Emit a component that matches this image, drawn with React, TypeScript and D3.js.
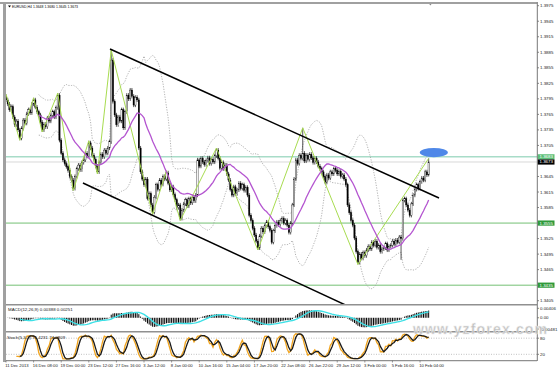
import React from 'react';
import * as d3 from 'd3';

// ---- data ----
const symbol = 'EURUSD,H4';
const firstOpen = 1.38;
const closes = [
  1.3793, 1.3785, 1.3774, 1.378, 1.376, 1.3745, 1.3752, 1.3735, 1.3719, 1.3738,
  1.3754, 1.3748, 1.3766, 1.3774, 1.3768, 1.3785, 1.3793, 1.3779, 1.377, 1.3764,
  1.375, 1.3735, 1.3746, 1.3741, 1.3758, 1.3752, 1.3763, 1.377, 1.376, 1.3778,
  1.3802, 1.3715, 1.369, 1.3677, 1.367, 1.3664, 1.3657, 1.3645, 1.3638, 1.3622,
  1.3645, 1.366, 1.3667, 1.3658, 1.3672, 1.3677, 1.369, 1.3684, 1.371, 1.37,
  1.3686, 1.3678, 1.3665, 1.3654, 1.3672, 1.3688, 1.3683, 1.3696, 1.369, 1.37,
  1.3712, 1.387, 1.379, 1.3764, 1.3745, 1.376, 1.3752, 1.3774, 1.3739, 1.377,
  1.3802, 1.3795, 1.3812, 1.38, 1.3783, 1.3798, 1.3793, 1.37, 1.3654, 1.364,
  1.3629, 1.364, 1.3603, 1.3612, 1.359, 1.3576, 1.3605, 1.3629, 1.362, 1.3638,
  1.363, 1.3645, 1.364, 1.3652, 1.3632, 1.3619, 1.3625, 1.361, 1.36, 1.3585,
  1.359, 1.3564, 1.358, 1.3592, 1.36, 1.3588, 1.3602, 1.3594, 1.3605, 1.3598,
  1.3609, 1.3677, 1.3665, 1.368, 1.3673, 1.3668, 1.3676, 1.3681, 1.367, 1.3678,
  1.3673, 1.3685, 1.3696, 1.368, 1.3661, 1.3672, 1.366, 1.3667, 1.365, 1.3638,
  1.362, 1.3609, 1.3625, 1.3612, 1.3619, 1.3632, 1.3622, 1.3629, 1.3618, 1.3624,
  1.3609, 1.357, 1.356, 1.3545, 1.3532, 1.352, 1.3507, 1.353, 1.3545, 1.3538,
  1.355, 1.3557, 1.3548, 1.3541, 1.3518, 1.354, 1.355, 1.3557, 1.3552, 1.356,
  1.3564, 1.3555, 1.356, 1.3551, 1.3537, 1.3555, 1.359, 1.364, 1.3677, 1.367,
  1.3686, 1.368, 1.369, 1.3675, 1.3686, 1.3678, 1.3688, 1.3681, 1.3672, 1.368,
  1.3673, 1.3665, 1.366, 1.3654, 1.3645, 1.3634, 1.3648, 1.3642, 1.3654, 1.365,
  1.366, 1.3657, 1.365, 1.3655, 1.3645, 1.3648, 1.364, 1.3629, 1.359, 1.3575,
  1.356, 1.3551, 1.3526, 1.35, 1.3479, 1.3495, 1.3487, 1.3498, 1.3492, 1.3503,
  1.351, 1.3505, 1.3518, 1.3512, 1.352, 1.3508, 1.3512, 1.35, 1.3505, 1.3507,
  1.3515, 1.3503, 1.351, 1.3512, 1.352, 1.3514, 1.3522, 1.3518, 1.3528, 1.3525,
  1.3599, 1.3602, 1.359, 1.358, 1.357, 1.3592, 1.3609, 1.362, 1.3629, 1.3622,
  1.3635, 1.3642, 1.3638, 1.3654, 1.3648, 1.3673,
];
const highOverrides: [number, number][] = [[61, 1.3889], [172, 1.3739], [245, 1.368]];
const lowOverrides: [number, number][] = [[229, 1.3484], [245, 1.3645]];
const zigzagPivots: [number, 'H' | 'L'][] = [
  [0, 'H'], [8, 'L'], [16, 'H'], [21, 'L'], [30, 'H'], [39, 'L'], [48, 'H'], [53, 'L'],
  [61, 'H'], [85, 'L'], [93, 'H'], [101, 'L'], [122, 'H'], [146, 'L'], [172, 'H'],
  [204, 'L'], [245, 'H'],
];
const priceTicks = [
  1.3975, 1.3945, 1.3915, 1.3885, 1.3855, 1.3825, 1.3795, 1.3765, 1.3735, 1.3705,
  1.3645, 1.3615, 1.3585, 1.3525, 1.3495, 1.3465, 1.3405,
];
const alertLevel = 1.3683;
const supportLevels = [1.3555, 1.3435];
const upperChannel: [number, number][] = [[60.3, 1.38913], [251, 1.36034]];
const lowerChannel: [number, number][] = [[44.6, 1.36324], [205, 1.3384]];
const markerEllipse: [number, number] = [248, 1.36913];
const dateLabels = [
  '11 Dec 2013', '16 Dec 08:00', '19 Dec 00:00', '23 Dec 12:00', '27 Dec 16:00',
  '3 Jan 12:00', '8 Jan 00:00', '10 Jan 16:00', '15 Jan 04:00', '17 Jan 20:00',
  '22 Jan 08:00', '26 Jan 22:00', '29 Jan 12:00', '3 Feb 00:00', '5 Feb 16:00', '10 Feb 04:00',
];
const dateLabelStep = 16;
const macdTicks: [number, string][] = [[0.00406, '0.00406'], [0, '0.00'], [-0.00481, '-0.00481']];
const macdTitle = 'MACD(12,26,9) 0.00388 0.00251';
const stochTicks = [80, 20];
const stochTitle = 'Stoch(5,3,3) 76.4231 74.0809';
const watermark = 'www.yzforex.com';

// ---- layout ----
const W = 560, H = 371;
const L = 6, R = 537;
const mainTop = 4, mainBot = 304;
const macdTop = 305.5, macdBot = 331;
const stTop = 332.5, stBot = 360;
const WICK = 0.0004;
const FONT = 'Liberation Sans, Arial, sans-serif';

function sma(arr: (number | null)[], n: number): (number | null)[] {
  return arr.map((_, i) => {
    if (i < n - 1) return null;
    let s = 0;
    for (let k = i - n + 1; k <= i; k++) { const v = arr[k]; if (v == null) return null; s += v; }
    return s / n;
  });
}
function ema(arr: number[], n: number): number[] {
  const a = 2 / (n + 1);
  const out: number[] = [];
  arr.forEach((v, i) => out.push(i === 0 ? v : a * v + (1 - a) * out[i - 1]));
  return out;
}

export default function App() {
  const N = closes.length;
  const opens = closes.map((c, i) => (i === 0 ? firstOpen : closes[i - 1]));
  const highs = closes.map((c, i) => Math.max(c, opens[i]) + WICK);
  const lows = closes.map((c, i) => Math.min(c, opens[i]) - WICK);
  highOverrides.forEach(([i, v]) => (highs[i] = v));
  lowOverrides.forEach(([i, v]) => (lows[i] = v));

  const x = d3.scaleLinear().domain([0, 307.8]).range([L, R]);
  const y = d3.scaleLinear().domain([1.3405, 1.3975]).range([300.7, 5.7]);

  const ma = sma(closes, 20);
  const bbUp: (number | null)[] = [], bbDn: (number | null)[] = [];
  closes.forEach((_, i) => {
    const m = ma[i];
    if (m == null) { bbUp.push(null); bbDn.push(null); return; }
    let s = 0;
    for (let k = i - 19; k <= i; k++) s += (closes[k] - m) ** 2;
    const sd = Math.sqrt(s / 20);
    bbUp.push(m + 2 * sd); bbDn.push(m - 2 * sd);
  });

  const e12 = ema(closes, 12), e26 = ema(closes, 26);
  const macd = closes.map((_, i) => e12[i] - e26[i]);
  const sig = sma(macd, 9);
  const ym = d3.scaleLinear().domain([-0.00481, 0.00406]).range([329, 308.3]);

  const kRaw: (number | null)[] = closes.map((c, i) => {
    if (i < 6) return null;
    let num = 0, den = 0;
    for (let j = i - 2; j <= i; j++) {
      const hh = d3.max(highs.slice(j - 4, j + 1))!;
      const ll = d3.min(lows.slice(j - 4, j + 1))!;
      num += closes[j] - ll; den += hh - ll;
    }
    return den === 0 ? 100 : (100 * num) / den;
  });
  const dLine = sma(kRaw, 3);
  const ys = d3.scaleLinear().domain([0, 100]).range([stBot - 0.3, stTop + 0.3]);

  const lineOf = (arr: (number | null)[], sc: d3.ScaleLinear<number, number>) =>
    d3.line<number | null>().defined((d) => d != null).x((_, i) => x(i)).y((d) => sc(d as number))
      .curve(d3.curveLinear)(arr) || '';

  const zz = d3.line<[number, 'H' | 'L']>()
    .x((d) => x(d[0]))
    .y((d) => y(d[1] === 'H' ? highs[d[0]] : lows[d[0]]))(zigzagPivots) || '';

  const last = N - 1;
  const titleText = `${symbol} ${opens[last].toFixed(4)} ${highs[last].toFixed(4)} ${lows[last].toFixed(4)} ${closes[last].toFixed(4)}`;

  const axisLabel = (yy: number, t: string, key: string) => (
    <g key={key}>
      <line x1={R} x2={R + 2} y1={yy} y2={yy} stroke="#333" strokeWidth={0.6} />
      <text x={R + 3} y={yy + 1.5} fontSize={4.4} fontFamily={FONT} fill="#222">{t}</text>
    </g>
  );
  const boxLabel = (yy: number, t: string, fill: string, key: string) => (
    <g key={key}>
      <rect x={R + 0.5} y={yy - 2.6} width={17} height={5.2} fill={fill} />
      <text x={R + 2.5} y={yy + 1.5} fontSize={4.4} fontFamily={FONT} fill="#fff">{t}</text>
    </g>
  );

  return (
    <svg width={W} height={H} style={{ position: 'fixed', left: 0, top: 0, background: '#fff' }}>
      <defs>
        <clipPath id="cpMain"><rect x={L} y={mainTop} width={R - L} height={mainBot - mainTop} /></clipPath>
        <clipPath id="cpMacd"><rect x={L} y={macdTop} width={R - L} height={macdBot - macdTop} /></clipPath>
        <clipPath id="cpSt"><rect x={L} y={stTop} width={R - L} height={stBot - stTop} /></clipPath>
      </defs>
      <rect x={0} y={0} width={W} height={H} fill="#fff" />

      {/* main panel */}
      <g clipPath="url(#cpMain)">
        <line x1={L} x2={R} y1={y(alertLevel)} y2={y(alertLevel)} stroke="#a8dcc8" strokeWidth={1.6} />
        <line x1={L} x2={R} y1={y(closes[last])} y2={y(closes[last])} stroke="#d9d9d9" strokeWidth={1} />
        {supportLevels.map((p) => (
          <line key={p} x1={L} x2={R} y1={y(p)} y2={y(p)} stroke="#74c074" strokeWidth={1} />
        ))}
        <path d={lineOf(bbUp, y)} fill="none" stroke="#a0a0a0" strokeWidth={0.8} strokeDasharray="1.2,1.4" />
        <path d={lineOf(bbDn, y)} fill="none" stroke="#a0a0a0" strokeWidth={0.8} strokeDasharray="1.2,1.4" />
        {closes.map((c, i) => {
          const o = opens[i];
          const up = c >= o;
          const top = y(Math.max(o, c)), bot = y(Math.min(o, c));
          return (
            <g key={i}>
              <line x1={x(i)} x2={x(i)} y1={y(highs[i])} y2={y(lows[i])} stroke="#111" strokeWidth={0.7} />
              <rect x={x(i) - 0.65} y={top} width={1.3} height={Math.max(0.6, bot - top)}
                fill={up ? '#fff' : '#000'} stroke="#000" strokeWidth={0.35} />
            </g>
          );
        })}
        <path d={zz} fill="none" stroke="#a8dc50" strokeWidth={1} />
        <path d={lineOf(ma, y)} fill="none" stroke="#b455d0" strokeWidth={1.3} />
        <line x1={x(upperChannel[0][0])} y1={y(upperChannel[0][1])} x2={x(upperChannel[1][0])} y2={y(upperChannel[1][1])}
          stroke="#000" strokeWidth={1.5} />
        <line x1={x(lowerChannel[0][0])} y1={y(lowerChannel[0][1])} x2={x(lowerChannel[1][0])} y2={y(lowerChannel[1][1])}
          stroke="#000" strokeWidth={1.5} />
        <ellipse cx={x(markerEllipse[0])} cy={y(markerEllipse[1])} rx={14} ry={4.6} fill="#4f88e8" />
      </g>
      {/* title */}
      <path d="M8,5.6 L11,5.6 L9.5,7.6 Z" fill="#000" />
      <text x={12} y={8} fontSize={4.4} fontFamily={FONT} fill="#000" textLength={66} lengthAdjust="spacingAndGlyphs">{titleText}</text>
      <path d={`M${x(246) - 1.5},3.6 L${x(246) + 1.5},3.6 L${x(246)},5.6 Z`} fill="#888" />

      {/* price axis */}
      {priceTicks.map((p) => axisLabel(y(p), p.toFixed(4), 'p' + p))}
      {boxLabel(y(alertLevel), alertLevel.toFixed(4), '#5cbf78', 'alert')}
      {boxLabel(y(closes[last]), closes[last].toFixed(4), '#000', 'cur')}
      {supportLevels.map((p) => boxLabel(y(p), p.toFixed(4), '#2f9a3a', 's' + p))}

      {/* MACD panel */}
      <g clipPath="url(#cpMacd)">
        {macd.map((v, i) => (
          <line key={i} x1={x(i)} x2={x(i)} y1={ym(0)} y2={ym(v)} stroke="#000" strokeWidth={1} />
        ))}
        <path d={lineOf(sig, ym)} fill="none" stroke="#3ee0e6" strokeWidth={1.4} />
      </g>
      <text x={8} y={311} fontSize={4.4} fontFamily={FONT} fill="#222">{macdTitle}</text>
      {macdTicks.map(([v, t]) => axisLabel(ym(v), t, 'm' + t))}

      {/* Stoch panel */}
      <g clipPath="url(#cpSt)">
        {stochTicks.map((v) => (
          <line key={v} x1={L} x2={R} y1={ys(v)} y2={ys(v)} stroke="#999" strokeWidth={0.6} strokeDasharray="1,1.5" />
        ))}
        <path d={lineOf(kRaw, ys)} fill="none" stroke="#f2a51e" strokeWidth={1.3} />
        <path d={lineOf(dLine, ys)} fill="none" stroke="#1a1a1a" strokeWidth={1.3} />
      </g>
      <text x={7} y={339} fontSize={4.4} fontFamily={FONT} fill="#222">{stochTitle}</text>
      {stochTicks.map((v) => axisLabel(ys(v), String(v), 'st' + v))}

      {/* frames */}
      <line x1={0} x2={R} y1={3} y2={3} stroke="#a0a0a0" strokeWidth={2} />
      <line x1={4.5} x2={4.5} y1={2} y2={362} stroke="#a0a0a0" strokeWidth={3} />
      <line x1={L} x2={R} y1={304.8} y2={304.8} stroke="#909090" strokeWidth={1.6} />
      <line x1={L} x2={R} y1={331.8} y2={331.8} stroke="#909090" strokeWidth={1.6} />
      <line x1={L} x2={R} y1={360.6} y2={360.6} stroke="#909090" strokeWidth={1.2} />
      <line x1={R + 0.3} x2={R + 0.3} y1={2} y2={361} stroke="#777" strokeWidth={1} />

      {/* date axis */}
      {dateLabels.map((t, k) => {
        const xx = x(k * dateLabelStep);
        return (
          <g key={t}>
            <line x1={xx} x2={xx} y1={360.6} y2={362.5} stroke="#555" strokeWidth={0.6} />
            <text x={xx - 0.8} y={366.5} fontSize={4.2} fontFamily={FONT} fill="#222">{t}</text>
          </g>
        );
      })}

      {/* watermark */}
      <text x={413} y={334} fontSize={14} fontWeight="bold" fontFamily={FONT} fill="#b4b4b4" fillOpacity={0.85}
        stroke="#eee" strokeWidth={0.5} textLength={134} lengthAdjust="spacing">{watermark}</text>
    </svg>
  );
}
